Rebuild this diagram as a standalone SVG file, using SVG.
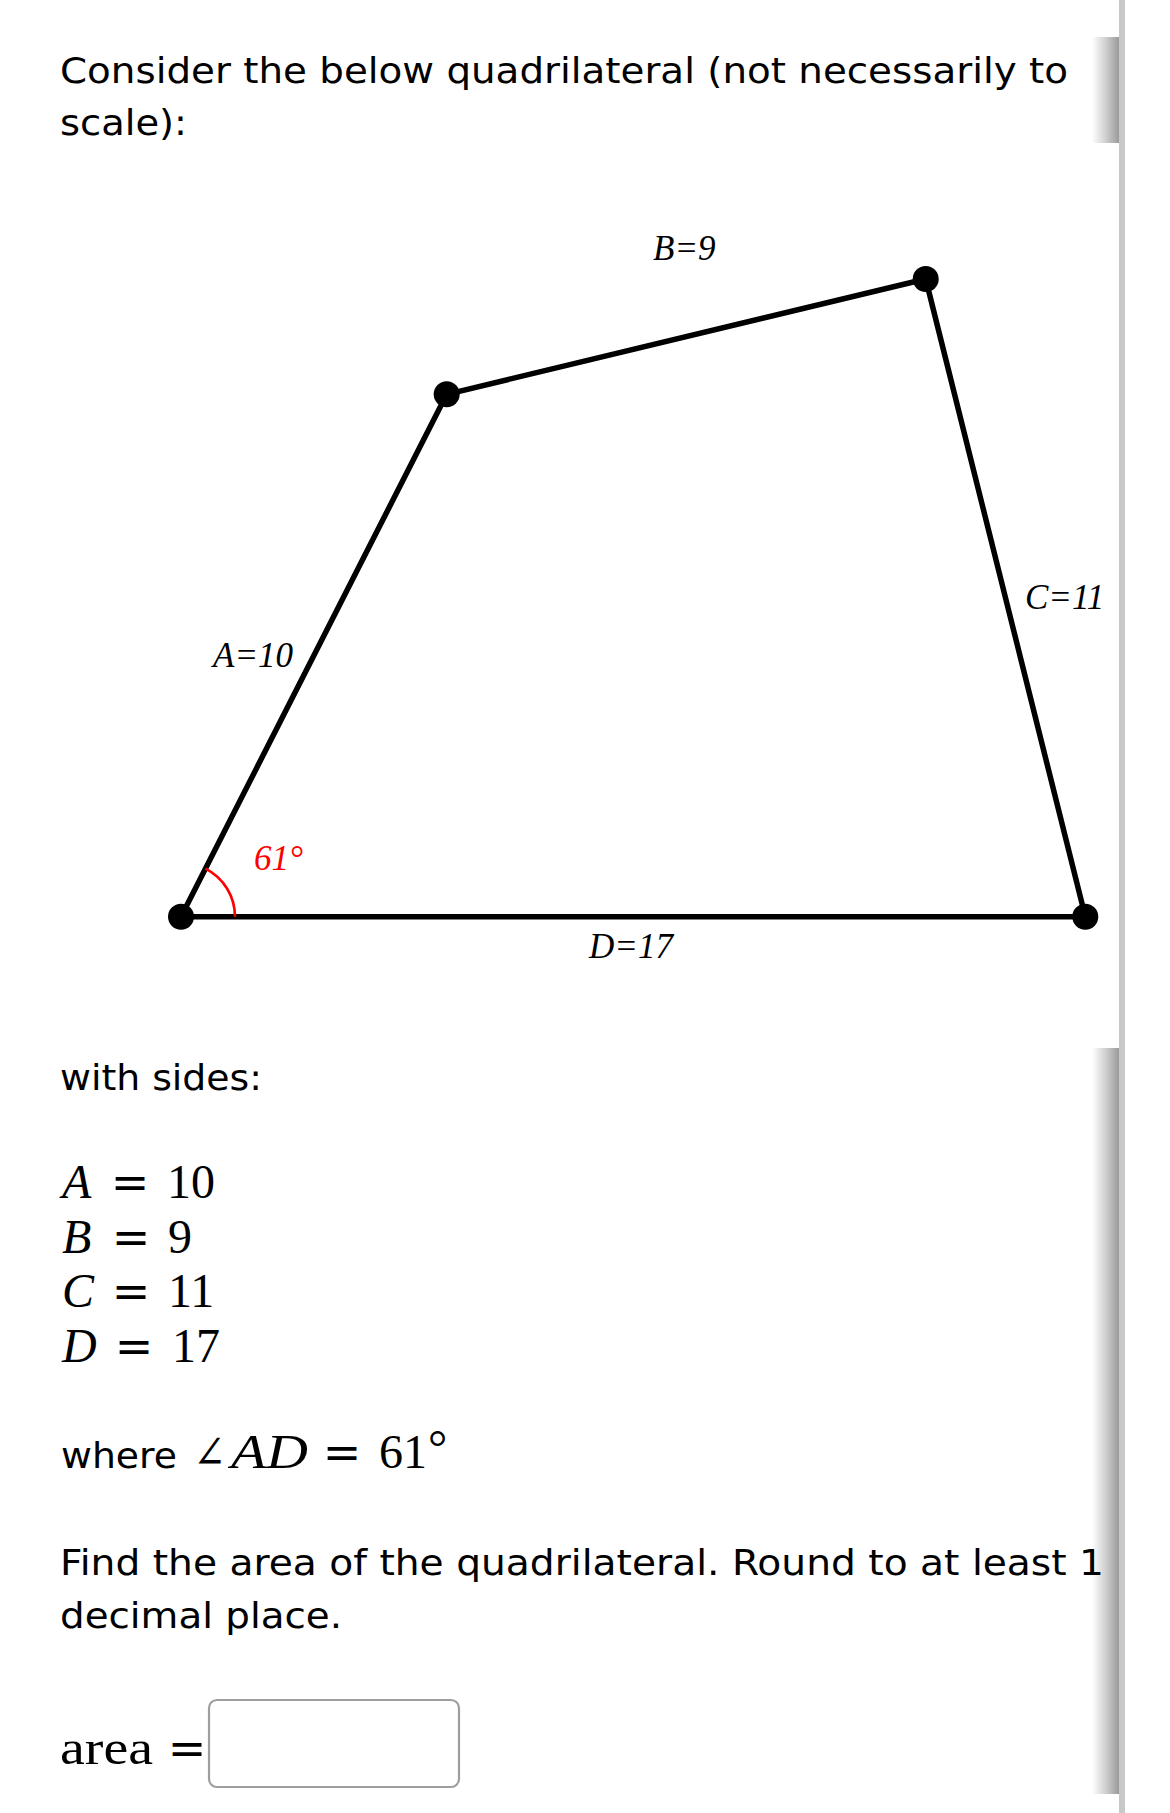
<svg xmlns="http://www.w3.org/2000/svg" width="1170" height="1813" viewBox="0 0 1170 1813">
<defs>
<style>
.body{font-family:"DejaVu Sans","Noto Sans",sans-serif;font-size:36px;fill:#000}
.math{font-family:"Liberation Serif","DejaVu Serif",serif;font-size:48px;fill:#000}
.eq{font-family:"DejaVu Serif","Liberation Serif",serif;font-size:46px;fill:#000}
.it{font-style:italic}
.lbl{font-family:"Liberation Serif",serif;font-style:italic;font-size:35px;fill:#000}
.edge{stroke:#000;stroke-width:5.5;fill:none;stroke-linecap:round}
.dot{fill:#000}
</style>
<linearGradient id="thumb" x1="0" y1="0" x2="1" y2="0">
<stop offset="0" stop-color="#ffffff"/>
<stop offset="0.5" stop-color="#d0d0d0"/>
<stop offset="1" stop-color="#9a9a9a"/>
</linearGradient>
</defs>
<rect width="1170" height="1813" fill="#fff"/>

<!-- scrollbar -->
<g id="scrollbar">
<rect x="1119" y="0" width="6" height="1813" fill="#c8c8c8"/>
<rect x="1092" y="37" width="27" height="106" fill="url(#thumb)"/>
<rect x="1092" y="1048" width="27" height="746" fill="url(#thumb)"/>
</g>

<g id="intro">
<text class="body" x="60" y="83" textLength="1008" lengthAdjust="spacingAndGlyphs">Consider the below quadrilateral (not necessarily to</text>
<text class="body" x="60" y="135" textLength="127" lengthAdjust="spacingAndGlyphs">scale):</text>
</g>

<g id="connectors">
<polygon class="edge" points="181,916.7 446.7,394.3 925.7,279 1085.3,916.7" stroke-linejoin="round"/>
<path d="M235,916.7 A54,54 0 0 0 205.5,868.6" fill="none" stroke="#ff0000" stroke-width="2.6"/>
</g>

<g id="v1"><circle class="dot" cx="181" cy="916.7" r="13"/></g>
<g id="v2"><circle class="dot" cx="446.7" cy="394.3" r="13"/></g>
<g id="v3"><circle class="dot" cx="925.7" cy="279" r="13"/></g>
<g id="v4"><circle class="dot" cx="1085.3" cy="916.7" r="13"/></g>

<g id="labels">
<text class="lbl" x="653" y="260">B=9</text>
<text class="lbl" x="213" y="667">A=10</text>
<text class="lbl" x="1025" y="609">C=11</text>
<text class="lbl" x="589" y="958">D=17</text>
<text class="lbl" x="254" y="870" fill="#ff0000" style="fill:#ff0000">61°</text>
</g>

<g id="sides">
<text class="body" x="60" y="1090" textLength="202" lengthAdjust="spacingAndGlyphs">with sides:</text>
<text class="math it" x="62" y="1198">A</text>
<text class="eq" x="130" y="1198" text-anchor="middle">=</text>
<text class="math" x="167" y="1198">10</text>
<text class="math it" x="62" y="1253">B</text>
<text class="eq" x="131" y="1253" text-anchor="middle">=</text>
<text class="math" x="168" y="1253">9</text>
<text class="math it" x="62" y="1307">C</text>
<text class="eq" x="131" y="1307" text-anchor="middle">=</text>
<text class="math" x="168" y="1307">11</text>
<text class="math it" x="62" y="1362">D</text>
<text class="eq" x="134" y="1362" text-anchor="middle">=</text>
<text class="math" x="172" y="1362">17</text>
</g>

<g id="angle">
<text class="body" x="61" y="1468" textLength="116" lengthAdjust="spacingAndGlyphs">where</text>
<text class="eq" x="193" y="1468" textLength="33" lengthAdjust="spacingAndGlyphs">∠</text>
<text class="math it" x="231" y="1468" textLength="77" lengthAdjust="spacingAndGlyphs">AD</text>
<text class="eq" x="342" y="1468" text-anchor="middle">=</text>
<text class="math" x="379" y="1468">61</text>
<text class="math" x="428" y="1464" font-size="30">°</text>
</g>

<g id="question">
<text class="body" x="60" y="1575" textLength="1044" lengthAdjust="spacingAndGlyphs">Find the area of the quadrilateral. Round to at least 1</text>
<text class="body" x="60" y="1628" textLength="282" lengthAdjust="spacingAndGlyphs">decimal place.</text>
</g>

<g id="answer">
<text class="math" x="60" y="1764" textLength="93" lengthAdjust="spacingAndGlyphs">area</text>
<text class="eq" x="187" y="1764" text-anchor="middle">=</text>
<rect x="209" y="1700" width="250" height="87" rx="8" ry="8" fill="#fff" stroke="#9e9e9e" stroke-width="2.2"/>
</g>
</svg>
